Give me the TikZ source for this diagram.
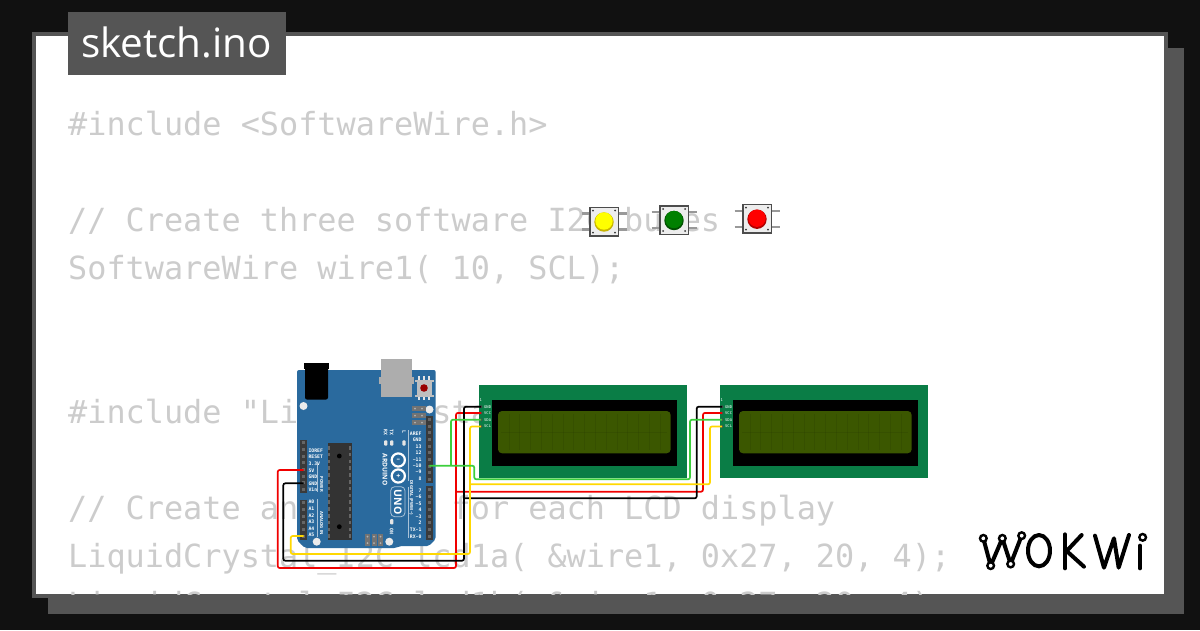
\documentclass[tikz,border=0pt]{standalone}
\usepackage{fontspec}
\setmainfont{Open Sans}
\setmonofont{DejaVu Sans Mono}
\usetikzlibrary{arrows.meta, positioning}
\definecolor{pagebg}{HTML}{111111}
\definecolor{framegrey}{HTML}{555555}
\definecolor{codegrey}{HTML}{CCCCCC}
\definecolor{boardblue}{HTML}{2A6A9E}
\definecolor{lcdgreen}{HTML}{0A7D46}
\definecolor{lcdolive}{HTML}{3B5700}
\definecolor{hdrgrey}{HTML}{3A3A3A}
\definecolor{wyellow}{HTML}{FFD800}
\definecolor{wgreen}{HTML}{3CCF3C}
\definecolor{wred}{HTML}{F00000}
\newcommand{\fsz}[1]{\fontsize{#1}{#1}\selectfont}
\begin{document}
\begin{tikzpicture}[x=1pt,y=-1pt,
      codeline/.style={anchor=base west,inner sep=0pt,text=codegrey,font=\ttfamily\fsz{31.85}},
      silk/.style={inner sep=0pt,text=white,font=\ttfamily\bfseries\fsz{4.8}},
      silkb/.style={inner sep=0pt,text=white,font=\bfseries\fsz{#1},rotate=-90},
      wire/.style={line width=1.7pt,rounded corners=2pt},
      lcdpin/.style={inner sep=0pt,text=white,font=\ttfamily\fsz{3.8},anchor=west},
      logostroke/.style={line width=4pt,line cap=round,line join=round,black},
      logodot/.style={line width=2.4pt,black,fill=white}]
      \useasboundingbox (0,0) rectangle (1200,630);
      \fill[pagebg] (0,0) rectangle (1200,630);
      \fill[framegrey] (48,48) rectangle (1184,614);
      \fill[framegrey] (32,32) rectangle (1168,598);
      \fill[white] (36,36) rectangle (1164,594);
      \begin{scope}
        \clip (36,36) rectangle (1164,594);
        \node[codeline] (line1) at (68,135) {\#include <SoftwareWire.h>};
        \node[codeline] (line2) at (68,231) {// Create three software I2C buses};
        \node[codeline] (line3) at (68,279) {SoftwareWire wire1( 10, SCL);};
        \node[codeline] (line4) at (68,423) {\#include "LiquidCrystal\_I2C.h"};
        \node[codeline] (line5) at (68,519) {// Create an object for each LCD display};
        \node[codeline] (line6) at (68,567) {LiquidCrystal\_I2C lcd1a( \&wire1, 0x27, 20, 4);};
        \node[codeline] (line7) at (68,615) {LiquidCrystal\_I2C lcd1b( \&wire1, 0x27, 20, 4);};
      \end{scope}
      \fill[framegrey] (68,12) rectangle (286,75);
      \node[anchor=base,inner sep=0pt,text=white,font=\fsz{40.4}] (title) at (176.5,57) {sketch.ino};

      % push buttons
      \foreach \bx/\by/\capdark/\capcol/\bname in {604/221.5/C8B400/FFFF00/btnyellow,674/220/004F00/008000/btngreen,757/218.7/B00000/FF0000/btnred}{
        \definecolor{capdark}{HTML}{\capdark}
        \definecolor{capcol}{HTML}{\capcol}
        \begin{scope}[shift={(\bx,\by)}]
          \foreach \ly in {-8,8}
            \draw[line width=2.4pt,color=black!40] (-22.5,\ly) -- (22.5,\ly);
          \node[draw=black!70,line width=1.5pt,fill=black!7,minimum size=28.5pt,inner sep=0pt] (\bname) at (0,0) {};
          \foreach \cx/\cy in {-11/-11,11/-11,-11/11,11/11}
            \fill[black!80] (\cx,\cy) circle (1);
          \fill[capdark] (0,0.5) circle (9.7);
          \fill[capcol] (0,-0.5) circle (8.7);
        \end{scope}
      }

      % arduino board
      \fill[boardblue,rounded corners=2pt] (297,370) -- (435.7,370) -- (435.7,539) -- (429,546) -- (400,546) -- (396,548) -- (305,548) -- (297,540) -- cycle;
      \node[fill=black,minimum width=25pt,minimum height=6pt,inner sep=0pt] (jacktop) at (316.5,366) {};
      \fill[black,rounded corners=2pt] (305,366) rectangle (328,399.5);
      \fill[black!32] (378.5,377) rectangle (414,384);
      \node[fill=black!32,minimum width=31pt,minimum height=38pt,inner sep=0pt] (usb) at (396,378.3) {};
      \foreach \ly in {381,396}
        \draw[line width=1.2pt,black!25] (415,\ly) -- (434,\ly);
      \foreach \lx in {419,424,429}
        \draw[line width=1.2pt,black!10] (\lx,376) -- (\lx,400);
      \node[fill=black!25,minimum width=15pt,minimum height=17pt,inner sep=0pt] (reset) at (424,388) {};
      \fill[red!60!black] (424,388) circle (3.8);
      % holes
      \foreach \hx/\hy in {303.5/406,429.5/409.5,316.7/541.7,389.3/541.7}
        \fill[black!8] (\hx,\hy) circle (4);
      % headers
      \foreach \hx/\hy/\hn/\hname in {429.3/416/10/hdrd,429.3/486/8/hdre,303.3/439.5/8/hdrp,303.3/499.5/6/hdra}{
        \node[fill=hdrgrey,anchor=north,minimum width=6.6pt,minimum height=\hn*6.68pt,inner sep=0pt] (\hname) at (\hx,\hy) {};
        \foreach \i in {1,...,\hn}
          \fill[black!60] (\hx-1.5,\hy+\i*6.68-4.8) rectangle +(3,3);
      }
      % icsp
      \foreach \ix in {415,422}
        \foreach \iy in {409,416,423}{
          \node[fill=black!55,minimum width=7pt,minimum height=5pt,inner sep=0pt] (icsp\ix\iy) at (\ix,\iy-0.5) {};
          \fill[black!30] (\ix,\iy-0.5) circle (1);
        }
      \foreach \ix in {367.5,374,380.5}
        \foreach \iy in {536.5,543}{
          \fill[black!55] (\ix-2.5,\iy-3) rectangle +(5,6);
          \fill[black!30] (\ix,\iy) circle (1);
        }
      % chip
      \node[fill=black!80,anchor=north west,minimum width=24pt,minimum height=97.3pt,inner sep=0pt] (chip) at (327.3,442.7) {};
      \foreach \py in {0,...,13}{
        \fill[black!60] (328,446+\py*6.8) rectangle +(2,3.5);
        \fill[black!60] (348.6,446+\py*6.8) rectangle +(2,3.5);
      }
      \foreach \cy in {456,526.7}
        \fill[black] (339.3,\cy) circle (2.4);
      % leds
      \foreach \lx/\ly in {385.7/443,391.7/443,404/443,391.7/521.7}
        \fill[black!10,rounded corners=1pt] (\lx-1.7,\ly-2.7) rectangle +(3.4,5.4);
      % silkscreen
      \foreach \ltxt/\ly in {IOREF/450.7,RESET/457,3.3V/463.7,5V/470.7,GND/477,GND/484,Vin/490,A0/502,A1/509,A2/516,A3/522,A4/529,A5/535}
        \node[silk,anchor=west] (lab\ly) at (308.3,\ly) {\ltxt};
      \foreach \ltxt/\ly in {AREF/434,GND/440,13/447,12/453,\char126 11/460,\char126 10/466,\char126 9/472,8/479,7/491,\char126 6/497,\char126 5/504,4/510,\char126 3/517,2/523,TX-1/530,RX-0/536.5}
        \node[silk,anchor=east] (lab\ly) at (421.7,\ly) {\ltxt};
      \foreach \ltxt/\lx/\ly in {RX/385.7/432,TX/391.7/432,L/404/432,ON/391.7/531.7}
        \node[silk,rotate=-90] (lab\ltxt) at (\lx,\ly) {\ltxt};
      \node[silkb=6.6] (ardlabel) at (385,469.5) {ARDUINO};
      \node[silkb=10.5] (unolabel) at (398,502) {UNO};
      \draw[white!60!boardblue,line width=.8pt,rounded corners=4pt] (390.7,486.7) rectangle (405,516.7);
      \node[silkb=4.2] (diglabel) at (411.3,498) {DIGITAL (PWM \char126)};
      \node[silkb=4.2] (powlabel) at (321.7,484.5) {POWER};
      \node[silkb=4.2] (analabel) at (321.7,523) {ANALOG IN};
      \foreach \lx/\ya/\yb in {317.5/462/492,317.5/499/537,408/430/481,408/487/538}
        \draw[white!60!boardblue,line width=.5pt] (\lx,\ya) -- (\lx,\yb);
      \foreach \cy/\sym in {460/--,476/+}{
        \draw[white,line width=2.2pt] (398.3,\cy) circle (6.6);
        \node[inner sep=0pt,text=white,font=\bfseries\fsz{7}] (logo\cy) at (398.3,\cy) {\sym};
      }

      % lcd modules
      \foreach \lx/\lname in {479/lcda,720/lcdb}{
        \node[fill=lcdgreen,anchor=north west,minimum width=208pt,minimum height=93pt,inner sep=0pt] (\lname) at (\lx,385) {};
        \node[fill=black,anchor=north west,minimum width=185.3pt,minimum height=66pt,inner sep=0pt] (\lname back) at (\lx+12.7,399.3) {};
        \fill[lcdolive,rounded corners=4pt] (\lx+19,411) rectangle +(172.7,42.3);
        \foreach \cc in {1,...,15}
          \draw[black!60!lcdolive,line width=.3pt,opacity=.12] (\lx+19+\cc*10.8,414) -- +(0,36);
        \draw[black!60!lcdolive,line width=.3pt,opacity=.12] (\lx+22,432) -- +(166,0);
        \node[lcdpin] (\lname one) at (\lx+.5,400) {1};
        \foreach \ptxt/\py in {GND/406.7,VCC/413,SDA/419.7,SCL/426.5}{
          \fill[black!70] (\lx+2,\py) circle (1.6);
          \coordinate (\lname\ptxt) at (\lx+2,\py);
          \node[lcdpin] (\lname lab\ptxt) at (\lx+5,\py) {\ptxt};
        }
      }

      % wires
      \coordinate (uno5v) at (303.5,470);
      \coordinate (unognd) at (303.5,483.3);
      \coordinate (unoa5) at (303.5,536);
      \coordinate (unod10) at (429.3,465.7);
      \coordinate (redtap) at (456,491.7);
      \coordinate (blacktap) at (464,498.3);
      \coordinate (yellowtap) at (470,484.3);
      \coordinate (greentap) at (451,465.7);
      \draw[wire,wred] (uno5v) -- (277.7,470) -- (277.7,568) -- (456,568) -- (456,412.9) -- (lcdaVCC);
      \draw[wire,wred] (redtap) -- (703,491.7) -- (703,412.9) -- (lcdbVCC);
      \draw[wire,black] (unognd) -- (283.3,483.3) -- (283.3,560.7) -- (464,560.7) -- (464,406.7) -- (lcdaGND);
      \draw[wire,black] (blacktap) -- (696.7,498.3) -- (696.7,406.7) -- (lcdbGND);
      \draw[wire,wyellow] (unoa5) -- (290.7,536) -- (290.7,554) -- (470,554) -- (470,426.5) -- (lcdaSCL);
      \draw[wire,wyellow] (yellowtap) -- (710,484.3) -- (710,426.5) -- (lcdbSCL);
      \draw[wire,wgreen] (unod10) -- (474.3,465.7) -- (474.3,479.3) -- (690,479.3) -- (690,419.7) -- (lcdbSDA);
      \draw[wire,wgreen] (greentap) -- (451,419.7) -- (lcdaSDA);

      % wokwi logo
      \begin{scope}[shift={(960,515)},x=.3333pt,y=-.3333pt]
        \draw[logostroke] (70,70) -- (92,152) -- (127,70) -- (152,147) -- (185,62);
        \foreach \dx/\dy in {70/70,127/70,185/62,92/152,152/147,548/67}
          \draw[logodot] (\dx,\dy) circle (10);
        \draw[logostroke] (237,107) ellipse (33 and 47);
        \draw[logostroke] (315,58) -- (315,160);
        \draw[logostroke] (365,60) -- (320,108) -- (372,155);
        \draw[logostroke] (405,62) -- (432,158) -- (462,70) -- (476,158) -- (507,60);
        \draw[logostroke] (540,92) -- (540,160);
      \end{scope}
    \end{tikzpicture}
\end{document}
